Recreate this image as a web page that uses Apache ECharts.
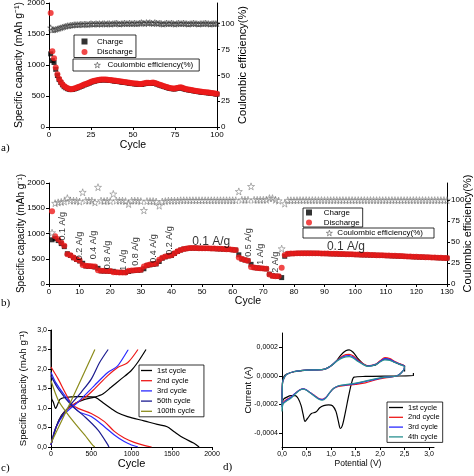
<!DOCTYPE html>
<html>
<head>
<meta charset="utf-8">
<script src="https://cdn.jsdelivr.net/npm/echarts@6.0.0/dist/echarts.min.js"></script>
<style>
  html, body { margin: 0; padding: 0; background: #fff; }
  #chart { width: 474px; height: 476px; }
</style>
</head>
<body>
<div id="chart"></div>
<script>
// a) 100 cycles
var aDischarge = [
  1840, 1220, 1110, 960, 850, 780, 730, 690, 660, 640,
  625, 615, 610, 612, 620, 628, 640, 650, 660, 672,
  685, 695, 705, 715, 728, 738, 745, 752, 758, 762,
  766, 768, 768, 766, 764, 760, 758, 752, 748, 745,
  742, 738, 732, 728, 726, 722, 718, 712, 708, 706,
  702, 700, 698, 695, 692, 700, 706, 712, 715, 710,
  712, 716, 710, 700, 690, 680, 672, 662, 655, 645,
  636, 628, 625, 622, 620, 628, 635, 640, 636, 625,
  615, 610, 605, 600, 595, 590, 586, 580, 576, 572,
  568, 565, 562, 560, 556, 553, 550, 546, 540, 535
]
var aCharge = [
  1180, 1070, 1040, 930, 830, 765, 718, 680, 650, 632,
  618, 608, 603, 605, 613, 621, 633, 643, 653, 665,
  678, 688, 698, 708, 721, 731, 738, 745, 751, 755,
  759, 761, 761, 759, 757, 753, 751, 745, 741, 738,
  735, 731, 725, 721, 719, 715, 711, 705, 701, 699,
  695, 693, 691, 688, 685, 693, 699, 705, 708, 703,
  705, 709, 703, 693, 683, 673, 665, 655, 648, 638,
  629, 621, 618, 615, 613, 621, 628, 633, 629, 618,
  608, 603, 598, 593, 588, 583, 579, 573, 569, 565,
  561, 558, 555, 553, 549, 546, 543, 539, 533, 528
]
var aCE = [
  96, 94, 94, 94.5, 95, 95.5, 96, 96.5, 97, 97.5,
  98, 98, 98.5, 98.5, 99, 99, 99, 99, 99.5, 99,
  99.5, 99.5, 99, 99.5, 100, 99.5, 99.5, 100, 99.5, 100,
  99.5, 100, 100, 99.5, 100, 100, 99.5, 100, 100, 100.5,
  100, 99.5, 100, 100, 100.5, 100, 100, 100.5, 100, 100,
  100.5, 100, 100, 100.5, 101, 100.5, 100, 101, 100.5, 101,
  100.5, 100, 101, 100.5, 100, 100.5, 100, 99.5, 100, 100.5,
  100, 100, 100.5, 100, 99.5, 100, 100.5, 100, 100, 100.5,
  100, 100, 99.5, 100, 100, 100.5, 100, 100, 99.5, 100,
  100, 100, 100.5, 100, 100, 99.5, 100, 100, 100, 100
]

// b) rate test, 130 cycles
var bDischarge = [
  1440, 945, 885, 820, 755,
  590, 570, 525, 490, 465,
  375, 360, 355, 350, 345,
  270, 262, 260, 258, 256,
  235, 232, 230, 230, 230,
  260, 265, 270, 275, 280,
  345, 370, 385, 395, 405,
  480, 520, 545, 560, 570,
  610, 650, 675, 695, 705, 712, 714, 712, 710, 708,
  707, 706, 705, 704, 700, 697, 693, 690, 686, 680,
  675,
  525, 495, 475, 460,
  335, 325, 318, 312, 306, 300,
  190, 160, 155, 152, 320,
  575, 598, 603, 606,
  608, 609, 610, 610, 610, 609, 608, 607, 606, 605,
  603, 601, 599, 597, 595, 593, 591, 589, 587, 585,
  583, 581, 579, 577, 575, 573, 571, 569, 567, 565,
  562, 560, 557, 555, 552, 549, 547, 544, 541, 538,
  535, 533, 531, 529, 527, 525, 522, 519, 516, 513
]
var bCharge = [
  875, 900, 860, 800, 740,
  600, 565, 520, 485, 455,
  410, 356, 351, 346, 335,
  310, 259, 256, 255, 252,
  251, 230, 228, 228, 227,
  247, 262, 267, 272, 276,
  302, 365, 380, 390, 397,
  446, 510, 537, 555, 564,
  604, 644, 672, 692, 702, 709, 711, 709, 707, 705,
  704, 703, 702, 701, 697, 694, 690, 687, 683, 677,
  672,
  578, 495, 475, 460,
  389, 325, 318, 312, 306, 300,
  194, 163, 155, 150, 127,
  549, 596, 601, 604,
  606, 607, 608, 608, 608, 607, 606, 605, 604, 603,
  601, 599, 597, 595, 593, 591, 589, 587, 585, 583,
  581, 579, 577, 575, 573, 571, 569, 567, 565, 563,
  560, 558, 555, 553, 550, 547, 545, 542, 539, 536,
  533, 531, 529, 527, 525, 523, 520, 517, 514, 511
]
var bCE = [
  61, 96, 97, 97.5, 98,
  102, 99, 99, 99, 98,
  109, 99, 99, 99, 97,
  115, 99, 98.5, 99, 98.5,
  107, 99, 99, 99, 98.5,
  95, 99, 99, 99, 98.5,
  87.5, 98.5, 98.5, 98.5, 98,
  93, 98, 98.5, 99, 99,
  99, 99, 99.5, 99.5, 99.5, 99.5, 99.5, 99.5, 99.5, 99.5,
  99.5, 99.5, 99.5, 99.5, 99.5, 99.5, 99.5, 99.5, 99.5, 99.5,
  99.5,
  110, 100, 100, 100,
  116, 100, 100, 100, 100, 100,
  102, 102, 100, 99, 42,
  95.5, 99.5, 99.5, 99.5,
  99.6, 99.7, 99.6, 99.7, 99.6, 99.7, 99.7, 99.6, 99.7, 99.6,
  99.7, 99.6, 99.7, 99.7, 99.6, 99.7, 99.6, 99.7, 99.7, 99.6,
  99.7, 99.6, 99.7, 99.6, 99.7, 99.7, 99.6, 99.7, 99.6, 99.7,
  99.6, 99.7, 99.7, 99.6, 99.7, 99.6, 99.7, 99.6, 99.7, 99.7,
  99.6, 99.7, 99.6, 99.7, 99.6, 99.7, 99.7, 99.6, 99.7, 99.6
]
// current-rate annotations: text, cycle, capacity (bottom of rotated text)
var rateTexts = ['0.1 A/g', '0.2 A/g', '0.4 A/g', '0.8 A/g', '1 A/g', '0.8 A/g', '0.4 A/g', '0.2 A/g', '0.5 A/g', '1 A/g', '2 A/g']
var rateCycles = [4.3, 10, 14.5, 19, 24.3, 28.4, 34, 39.5, 65.1, 69, 74]
var rateValues = [860, 470, 490, 290, 260, 360, 420, 580, 540, 380, 220]
var bigRateTexts = ['0.1 A/g', '0.1 A/g']
var bigRateCycles = [53, 97]
var bigRateValues = [840, 730]

// c) voltage profiles [capacity, voltage]
var c1Discharge = [[0, 3.0], [2, 2.0], [8, 1.24], [29, 1.15], [57, 0.99], [78, 1.07], [111, 1.22], [172, 1.27], [350, 1.29], [541, 1.28], [582, 1.24], [664, 1.11], [746, 0.99], [828, 0.88], [951, 0.78], [1156, 0.67], [1320, 0.58], [1443, 0.52], [1525, 0.40], [1648, 0.23], [1771, 0.10], [1840, 0.0]]
var c1Charge = [[0, 0.05], [40, 0.35], [100, 0.7], [172, 0.92], [295, 1.11], [418, 1.22], [541, 1.28], [644, 1.36], [746, 1.53], [869, 1.74], [992, 1.95], [1074, 2.16], [1180, 2.5]]
var c2Discharge = [[0, 2.05], [90, 1.74], [172, 1.41], [254, 1.11], [336, 0.99], [500, 0.86], [664, 0.65], [787, 0.40], [910, 0.23], [1033, 0.12], [1156, 0.04], [1250, 0.0]]
var c2Charge = [[0, 0.05], [60, 0.5], [172, 0.9], [295, 1.11], [418, 1.26], [541, 1.49], [705, 1.83], [828, 2.04], [951, 2.16], [1080, 2.5]]
var c3Discharge = [[0, 1.92], [60, 1.65], [172, 1.32], [336, 0.92], [500, 0.78], [664, 0.52], [787, 0.31], [910, 0.14], [1000, 0.05], [1080, 0.0]]
var c3Charge = [[0, 0.05], [60, 0.5], [172, 0.86], [336, 1.15], [541, 1.58], [705, 1.91], [828, 2.08], [960, 2.5]]
var c50Discharge = [[0, 1.83], [90, 1.49], [254, 1.07], [418, 0.78], [582, 0.44], [705, 0.06], [720, 0.0]]
var c50Charge = [[0, 0.05], [90, 0.65], [254, 1.11], [377, 1.41], [500, 1.74], [602, 2.16], [710, 2.5]]
var c100Discharge = [[0, 1.7], [90, 1.2], [172, 0.94], [295, 0.61], [418, 0.31], [520, 0.04], [545, 0.0]]
var c100Charge = [[0, 0.1], [254, 1.2], [545, 2.5]]

// d) cyclic voltammetry [potential, current]
var d1 = [[2.68, 0.00002], [2.68, 0.0], [2.2, -0.000002], [1.7, -0.000005], [1.47, -0.00001], [1.42, -0.00005], [1.36, -0.00014], [1.29, -0.00026], [1.23, -0.00035], [1.19, -0.00037], [1.15, -0.00032], [1.1, -0.00025], [1.03, -0.00021], [0.95, -0.000205], [0.85, -0.00021], [0.77, -0.000225], [0.69, -0.000255], [0.6, -0.000265], [0.52, -0.0003], [0.47, -0.00032], [0.43, -0.00027], [0.39, -0.00021], [0.33, -0.00016], [0.27, -0.00014], [0.18, -0.00014], [0.1, -0.00015], [0.03, -0.000165], [0.0, -0.0002], [0.01, -0.00005], [0.04, -0.000005], [0.1, 0.000012], [0.25, 0.000028], [0.5, 0.00004], [0.85, 0.000045], [1.0, 0.00007], [1.1, 0.0001], [1.2, 0.000145], [1.3, 0.000175], [1.37, 0.000182], [1.45, 0.000165], [1.55, 0.00012], [1.65, 0.000085], [1.75, 0.00007], [1.9, 0.000075], [2.0, 0.0001], [2.1, 0.000118], [2.2, 0.000113], [2.3, 0.000095], [2.4, 0.00008], [2.5, 0.00007], [2.5, 0.00003]]
var d2 = [[2.5, 0.00007], [2.48, 0.00004], [2.35, 0.0], [2.1, -0.000015], [1.9, -0.00003], [1.7, -0.00005], [1.5, -0.00006], [1.3, -0.000068], [1.15, -0.000075], [1.05, -0.00009], [0.97, -0.00012], [0.9, -0.00015], [0.82, -0.000165], [0.75, -0.00016], [0.67, -0.00014], [0.58, -0.00012], [0.5, -0.0001], [0.43, -0.000092], [0.36, -0.0001], [0.28, -0.00012], [0.18, -0.00015], [0.08, -0.00017], [0.02, -0.00019], [0.0, -0.00021], [0.01, -0.00005], [0.05, -0.00001], [0.1, 0.00001], [0.25, 0.00003], [0.5, 0.00004], [0.85, 0.000045], [1.0, 0.00007], [1.1, 0.0001], [1.2, 0.00013], [1.3, 0.000148], [1.37, 0.00015], [1.45, 0.00014], [1.55, 0.00011], [1.65, 0.000085], [1.75, 0.00007], [1.9, 0.00008], [2.0, 0.000105], [2.1, 0.000128], [2.2, 0.00012], [2.3, 0.0001], [2.4, 0.000085], [2.5, 0.00007]]
var d3 = [[2.5, 0.000068], [2.48, 0.00004], [2.35, 0.0], [2.1, -0.00001], [1.9, -0.000025], [1.7, -0.00004], [1.5, -0.000055], [1.3, -0.000065], [1.15, -0.000072], [1.05, -0.00009], [0.97, -0.00012], [0.9, -0.000152], [0.82, -0.000168], [0.75, -0.000162], [0.67, -0.000142], [0.58, -0.00012], [0.5, -0.0001], [0.43, -0.000092], [0.36, -0.0001], [0.28, -0.00012], [0.18, -0.000152], [0.08, -0.000175], [0.02, -0.000195], [0.0, -0.00022], [0.01, -0.00005], [0.05, -0.00001], [0.1, 0.00001], [0.25, 0.00003], [0.5, 0.00004], [0.85, 0.000045], [1.0, 0.00007], [1.1, 0.0001], [1.2, 0.000125], [1.3, 0.00014], [1.37, 0.000142], [1.45, 0.000132], [1.55, 0.000105], [1.65, 0.000082], [1.75, 0.000068], [1.9, 0.000078], [2.0, 0.0001], [2.1, 0.00012], [2.2, 0.000113], [2.3, 0.000097], [2.4, 0.000082], [2.5, 0.000068]]
var d4 = [[2.5, 0.000065], [2.48, 0.00004], [2.35, 0.0], [2.1, -0.00001], [1.9, -0.000022], [1.7, -0.000038], [1.5, -0.000052], [1.3, -0.000062], [1.15, -0.00007], [1.05, -0.00009], [0.97, -0.00012], [0.9, -0.000155], [0.82, -0.000172], [0.75, -0.000165], [0.67, -0.000145], [0.58, -0.000122], [0.5, -0.000102], [0.43, -0.000094], [0.36, -0.000102], [0.28, -0.000125], [0.18, -0.000158], [0.08, -0.00018], [0.02, -0.0002], [0.0, -0.00025], [0.01, -0.00005], [0.05, -0.00001], [0.1, 0.00001], [0.25, 0.00003], [0.5, 0.00004], [0.85, 0.000045], [1.0, 0.00007], [1.1, 0.000098], [1.2, 0.00012], [1.3, 0.000132], [1.37, 0.000134], [1.45, 0.000125], [1.55, 0.0001], [1.65, 0.00008], [1.75, 0.000066], [1.9, 0.000076], [2.0, 0.000097], [2.1, 0.000112], [2.2, 0.000108], [2.3, 0.000094], [2.4, 0.00008], [2.5, 0.000065]]

// tick values
var ceTicks = [0, 25, 50, 75, 100]
var dXTicks = [0, 0.5, 1, 1.5, 2, 2.5, 3]
var dYTicks = [-0.0004, -0.0002, 0, 0.0002]

var FONT = 'Liberation Sans, Arial, sans-serif'
var STAR = 'path://M50,0 L61.8,35.3 98.9,35.5 69.1,57.7 80.4,93.1 50,71.5 19.6,93.1 30.9,57.7 1.1,35.5 38.2,35.3 Z'
var RED = '#ee1a1a'
var BLUE = '#2a2aff'

function byCycle(arr) {
  return arr.map(function (v, i) { return [i + 1, v] })
}
function comma(d) {
  return function (v) { return v.toFixed(d).replace('.', ',') }
}
function plain(v) { return String(v) }

function makeAxis(o) {
  var a = {
    type: 'value',
    gridIndex: o.grid,
    min: o.min,
    max: o.max,
    position: o.position,
    name: o.name,
    nameLocation: 'middle',
    nameGap: o.nameGap,
    nameMoveOverlap: false,
    nameTextStyle: { color: '#000', fontFamily: FONT, fontSize: o.nameSize },
    axisLine: { show: true, onZero: false, lineStyle: { color: '#000', width: 1 } },
    axisTick: { show: true, length: 3, lineStyle: { color: '#000' } },
    splitLine: { show: false },
    axisLabel: { color: '#000', fontSize: o.labelSize, fontFamily: FONT, margin: 4, formatter: o.formatter || plain }
  }
  if (o.interval) a.interval = o.interval
  if (o.ticks) {
    a.axisLabel.customValues = o.ticks
    a.axisTick.customValues = o.ticks
  }
  return a
}

function legendBox(o) {
  return {
    data: o.data,
    left: o.left,
    top: o.top,
    orient: 'vertical',
    itemWidth: o.itemWidth,
    itemHeight: o.itemHeight,
    itemGap: o.itemGap || 0,
    padding: o.padding,
    borderColor: '#000',
    borderWidth: 0.8,
    borderRadius: 0,
    selectedMode: false,
    formatter: o.formatter,
    textStyle: { color: '#000', fontSize: o.fontSize, fontFamily: FONT }
  }
}
function lineItems(names) {
  return names.map(function (n) { return { name: n, icon: 'rect' } })
}
function starItem(border) {
  return [{ name: 'Coulombic efficiency(%)', icon: STAR,
    itemStyle: { color: 'rgba(255,255,255,0)', borderColor: border, borderWidth: 0.7 } }]
}

function curve(name, data, color, x, y) {
  return {
    name: name, type: 'line', xAxisIndex: x, yAxisIndex: y,
    data: data, symbol: 'none', smooth: 0.3,
    lineStyle: { color: color, width: 1.2 }, itemStyle: { color: color }
  }
}

var myChart = echarts.init(document.getElementById('chart'))

var option = {
  animation: false,
  backgroundColor: '#fff',
  grid: [
    { left: 49, top: 3, width: 168, height: 124, outerBoundsMode: 'none' },
    { left: 49, top: 183, width: 398, height: 101, outerBoundsMode: 'none' },
    { left: 51, top: 330, width: 161, height: 117, outerBoundsMode: 'none' },
    { left: 282, top: 333, width: 152, height: 114, outerBoundsMode: 'none' }
  ],
  xAxis: [
    makeAxis({ grid: 0, min: 0, max: 100, interval: 25, name: 'Cycle', nameGap: 13, nameSize: 10.5, labelSize: 8 }),
    makeAxis({ grid: 1, min: 0, max: 130, interval: 10, name: 'Cycle', nameGap: 12, nameSize: 10.5, labelSize: 8 }),
    makeAxis({ grid: 2, min: 0, max: 2000, interval: 500, name: 'Cycle', nameGap: 11, nameSize: 11, labelSize: 7 }),
    makeAxis({ grid: 3, min: 0, max: 3.1, ticks: dXTicks, formatter: comma(1), name: 'Potential (V)', nameGap: 12, nameSize: 8.5, labelSize: 7 })
  ],
  yAxis: [
    makeAxis({ grid: 0, min: 0, max: 2000, interval: 500, name: 'Specific capacity (mAh g\u207B\u00B9)', nameGap: 24, nameSize: 10.5, labelSize: 8 }),
    makeAxis({ grid: 0, min: 0, max: 120, position: 'right', ticks: ceTicks, name: 'Coulombic efficiency(%)', nameGap: 20, nameSize: 11, labelSize: 8 }),
    makeAxis({ grid: 1, min: 0, max: 2000, interval: 500, name: 'Specific capacity (mAh g\u207B\u00B9)', nameGap: 23, nameSize: 10, labelSize: 8 }),
    makeAxis({ grid: 1, min: 0, max: 120, position: 'right', ticks: ceTicks, name: 'Coulombic efficiency(%)', nameGap: 15, nameSize: 11, labelSize: 8 }),
    makeAxis({ grid: 2, min: 0, max: 3, interval: 0.5, formatter: comma(1), name: 'Specific capacity (mAh g\u207B\u00B9)', nameGap: 23, nameSize: 9.7, labelSize: 7 }),
    makeAxis({ grid: 3, min: -0.0005, max: 0.0003, ticks: dYTicks, formatter: comma(4), name: 'Current (A)', nameGap: 29, nameSize: 9.5, labelSize: 7 })
  ],
  legend: [
    legendBox({ data: ['Charge', 'Discharge'], left: 74, top: 35, itemWidth: 6, itemHeight: 6, itemGap: 2.5,
      padding: [2.5, 3, 1.5, 7.5], fontSize: 8, formatter: '  {name}' }),
    legendBox({ data: starItem('#333'), left: 73, top: 59, itemWidth: 6, itemHeight: 6,
      padding: [2, 6, 2, 21], fontSize: 8, formatter: ' {name}' }),
    legendBox({ data: ['Charge', 'Discharge'], left: 303, top: 208, itemWidth: 6, itemHeight: 6, itemGap: 2,
      padding: [0.5, 3, 0.5, 3], fontSize: 8, formatter: '   {name}' }),
    legendBox({ data: starItem('#444'), left: 303, top: 228, itemWidth: 6, itemHeight: 6,
      padding: [1, 11, 1, 23], fontSize: 8 }),
    legendBox({ data: lineItems(['1st cycle', '2nd cycle', '3rd cycle', '50th cycle', '100th cycle']), left: 139, top: 365,
      itemWidth: 11, itemHeight: 1.3, itemGap: 2.2, padding: [1.5, 9, 1.5, 2], fontSize: 7.5 }),
    legendBox({ data: lineItems(['1st cycle', '2nd cycle', '3rd cycle', '4th cycle']), left: 387, top: 402,
      itemWidth: 14, itemHeight: 1.3, itemGap: 1.8, padding: [1.5, 3, 1.5, 2], fontSize: 7.5 })
  ],
  graphic: [
    { type: 'text', left: 1, top: 143, style: { text: 'a)', font: '11px Liberation Serif', fill: '#000' } },
    { type: 'text', left: 1, top: 298, style: { text: 'b)', font: '11px Liberation Serif', fill: '#000' } },
    { type: 'text', left: 1, top: 463, style: { text: 'c)', font: '11px Liberation Serif', fill: '#000' } },
    { type: 'text', left: 223, top: 462, style: { text: 'd)', font: '11px Liberation Serif', fill: '#000' } }
  ],
  series: [
    // a)
    { name: 'Charge', type: 'scatter', xAxisIndex: 0, yAxisIndex: 0, symbol: 'rect', symbolSize: 5,
      itemStyle: { color: '#000' }, data: byCycle(aCharge) },
    { name: 'Discharge', type: 'scatter', xAxisIndex: 0, yAxisIndex: 0, symbol: 'circle', symbolSize: 6,
      itemStyle: { color: RED }, data: byCycle(aDischarge) },
    { name: 'Coulombic efficiency(%)', type: 'scatter', xAxisIndex: 0, yAxisIndex: 1, symbol: STAR, symbolSize: 6,
      itemStyle: { color: 'rgba(255,255,255,0)', borderColor: '#333', borderWidth: 0.7 }, data: byCycle(aCE) },
    // b)
    { name: 'Charge', type: 'scatter', xAxisIndex: 1, yAxisIndex: 2, symbol: 'rect', symbolSize: 5,
      itemStyle: { color: '#000' }, data: byCycle(bCharge) },
    { name: 'Discharge', type: 'scatter', xAxisIndex: 1, yAxisIndex: 2, symbol: 'circle', symbolSize: 6,
      itemStyle: { color: RED }, data: byCycle(bDischarge) },
    { name: 'Coulombic efficiency(%)', type: 'scatter', xAxisIndex: 1, yAxisIndex: 3, symbol: STAR, symbolSize: 7,
      itemStyle: { color: 'rgba(255,255,255,0)', borderColor: '#777', borderWidth: 0.7 }, data: byCycle(bCE) },
    { type: 'scatter', xAxisIndex: 1, yAxisIndex: 2, symbolSize: 0.1, silent: true,
      itemStyle: { color: 'rgba(0,0,0,0)' },
      data: rateCycles.map(function (c, i) { return { name: rateTexts[i], value: [c, rateValues[i]] } }),
      label: { show: true, formatter: '{b}', rotate: 90, position: [0, 0], align: 'left', verticalAlign: 'middle',
        fontSize: 9, fontFamily: FONT, color: '#000' } },
    { type: 'scatter', xAxisIndex: 1, yAxisIndex: 2, symbolSize: 0.1, silent: true,
      itemStyle: { color: 'rgba(0,0,0,0)' },
      data: bigRateCycles.map(function (c, i) { return { name: bigRateTexts[i], value: [c, bigRateValues[i]] } }),
      label: { show: true, formatter: '{b}', position: [0, 0], align: 'center', verticalAlign: 'middle',
        fontSize: 12, fontFamily: FONT, color: '#000' } },
    // c)
    curve('1st cycle', c1Discharge, '#000', 2, 4),
    curve('1st cycle', c1Charge, '#000', 2, 4),
    curve('2nd cycle', c2Discharge, RED, 2, 4),
    curve('2nd cycle', c2Charge, RED, 2, 4),
    curve('3rd cycle', c3Discharge, BLUE, 2, 4),
    curve('3rd cycle', c3Charge, BLUE, 2, 4),
    curve('50th cycle', c50Discharge, '#1c1c90', 2, 4),
    curve('50th cycle', c50Charge, '#1c1c90', 2, 4),
    curve('100th cycle', c100Discharge, '#8c8c1c', 2, 4),
    curve('100th cycle', c100Charge, '#8c8c1c', 2, 4),
    // d)
    curve('1st cycle', d1, '#000', 3, 5),
    curve('2nd cycle', d2, RED, 3, 5),
    curve('3rd cycle', d3, BLUE, 3, 5),
    curve('4th cycle', d4, '#2a9090', 3, 5)
  ]
}

myChart.setOption(option)
</script>
</body>
</html>
